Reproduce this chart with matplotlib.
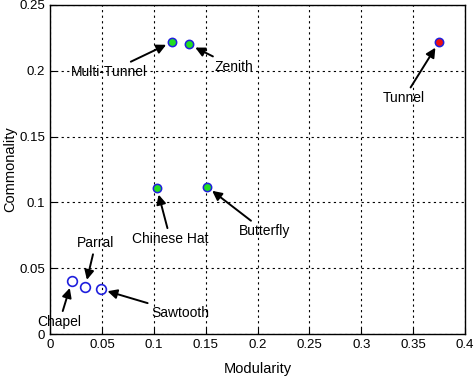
import matplotlib.pyplot as plt

plt.rcParams["font.family"] = ["Liberation Sans", "DejaVu Sans"]

# data
names = ["Multi-Tunnel", "Zenith", "Tunnel", "Chinese Hat", "Butterfly",
         "Parral", "Chapel", "Sawtooth"]
modularity = [0.118, 0.134, 0.375, 0.103, 0.151, 0.034, 0.021, 0.049]
commonality = [0.222, 0.220, 0.222, 0.111, 0.112, 0.036, 0.040, 0.034]
groups = ["green", "green", "red", "green", "green", "open", "open", "open"]

# where each label text sits (data coords)
label_pos = [(0.057, 0.199), (0.177, 0.203), (0.341, 0.179), (0.116, 0.072),
             (0.207, 0.078), (0.044, 0.069), (0.009, 0.009), (0.126, 0.016)]

face = {"green": "#22dd22", "red": "#ee1111", "open": "none"}

fig = plt.figure(figsize=(4.74, 3.78), dpi=100)
ax = fig.add_axes([0.1055, 0.1164, 0.8755, 0.8705])

for x, y, g in zip(modularity, commonality, groups):
    if g == "open":
        ax.plot(x, y, "o", ms=7, mfc="none", mec="#1f1fdd", mew=1.2, zorder=3)
    else:
        ax.plot(x, y, "o", ms=6, mfc=face[g], mec="#1f1fdd", mew=1.1, zorder=3)

for name, x, y, (tx, ty) in zip(names, modularity, commonality, label_pos):
    ax.annotate(name, xy=(x, y), xytext=(tx, ty), ha="center", va="center",
                fontsize=10,
                arrowprops=dict(arrowstyle="-|>", color="black", lw=1.4,
                                mutation_scale=14, shrinkA=1, shrinkB=5))

ax.set_xlim(0, 0.4)
ax.set_ylim(0, 0.25)
ax.set_xticks([0, 0.05, 0.1, 0.15, 0.2, 0.25, 0.3, 0.35, 0.4])
ax.set_xticklabels(["0", "0.05", "0.1", "0.15", "0.2", "0.25", "0.3", "0.35", "0.4"])
ax.set_yticks([0, 0.05, 0.1, 0.15, 0.2, 0.25])
ax.set_yticklabels(["0", "0.05", "0.1", "0.15", "0.2", "0.25"])
ax.tick_params(direction="in", labelsize=9.5, length=4)
ax.grid(True, color="black", linestyle=(0, (2, 3)), linewidth=0.8)
for s in ax.spines.values():
    s.set_linewidth(1.0)

ax.set_xlabel("Modularity", fontsize=10.5, labelpad=8)
ax.set_ylabel("Commonality", fontsize=10.5)
ax.yaxis.set_label_coords(-0.078, 0.5)

fig.savefig("out.png", dpi=100)
